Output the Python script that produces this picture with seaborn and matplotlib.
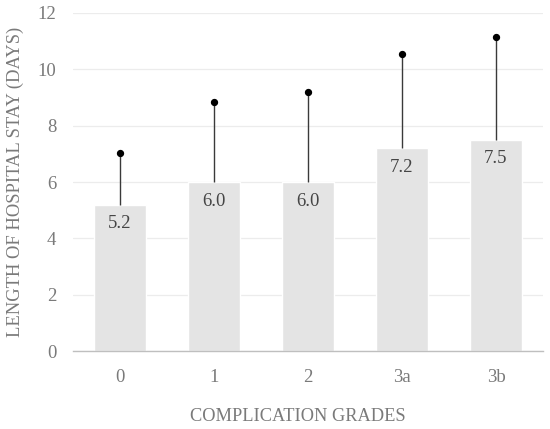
import matplotlib
matplotlib.use("Agg")
import matplotlib.pyplot as plt
import seaborn as sns
import pandas as pd

categories = ["0", "1", "2", "3a", "3b"]
mean_days = [5.2, 6.0, 6.0, 7.2, 7.5]
upper_sd = [1.84, 2.84, 3.2, 3.33, 3.66]
y_ticks = [0, 2, 4, 6, 8, 10, 12]

df = pd.DataFrame({"grade": categories, "days": mean_days})

sns.set_theme(style="white")
plt.rcParams["font.family"] = ["Liberation Serif", "DejaVu Serif"]

fig = plt.figure(figsize=(5.5, 4.29), dpi=100)
ax = fig.add_axes([0.1327, 0.1818, 0.8545, 0.7879])

sns.barplot(data=df, x="grade", y="days", color="#e4e4e4", saturation=1,
            width=0.55, errorbar=None, ax=ax, zorder=2)

xs = list(range(len(categories)))
ax.errorbar(xs, mean_days, yerr=[[0] * len(upper_sd), upper_sd],
            fmt="none", ecolor="#3a3a3a", elinewidth=1.0, capsize=0, zorder=3)
tops = [m + s for m, s in zip(mean_days, upper_sd)]
ax.scatter(xs, tops, s=18, color="black", zorder=4)

for x, v in zip(xs, mean_days):
    ax.text(x, v - 0.68, f"{v:.1f}", ha="center", va="center",
            fontsize=13.5, color="#454545", zorder=5)

ax.set_ylim(0, 12)
ax.set_xlim(-0.5, len(categories) - 0.5)
ax.set_yticks(y_ticks)
ax.yaxis.grid(True, color="#ececec", linewidth=0.9, zorder=0)
ax.set_axisbelow(True)
for s in ["top", "right", "left"]:
    ax.spines[s].set_visible(False)
ax.spines["bottom"].set_color("#bfbfbf")
ax.spines["bottom"].set_linewidth(1.0)
ax.tick_params(axis="both", length=0, labelsize=13.5, labelcolor="#7a7a7a")
ax.tick_params(axis="y", pad=12)
ax.tick_params(axis="x", pad=13)

ax.set_xlabel("COMPLICATION GRADES", fontsize=13.2, color="#7a7a7a")
ax.xaxis.set_label_coords(0.4777, -0.168)
ax.set_ylabel("LENGTH OF HOSPITAL STAY (DAYS)", fontsize=13.4, color="#7a7a7a",
              labelpad=10)

fig.savefig("out.png", dpi=100)
